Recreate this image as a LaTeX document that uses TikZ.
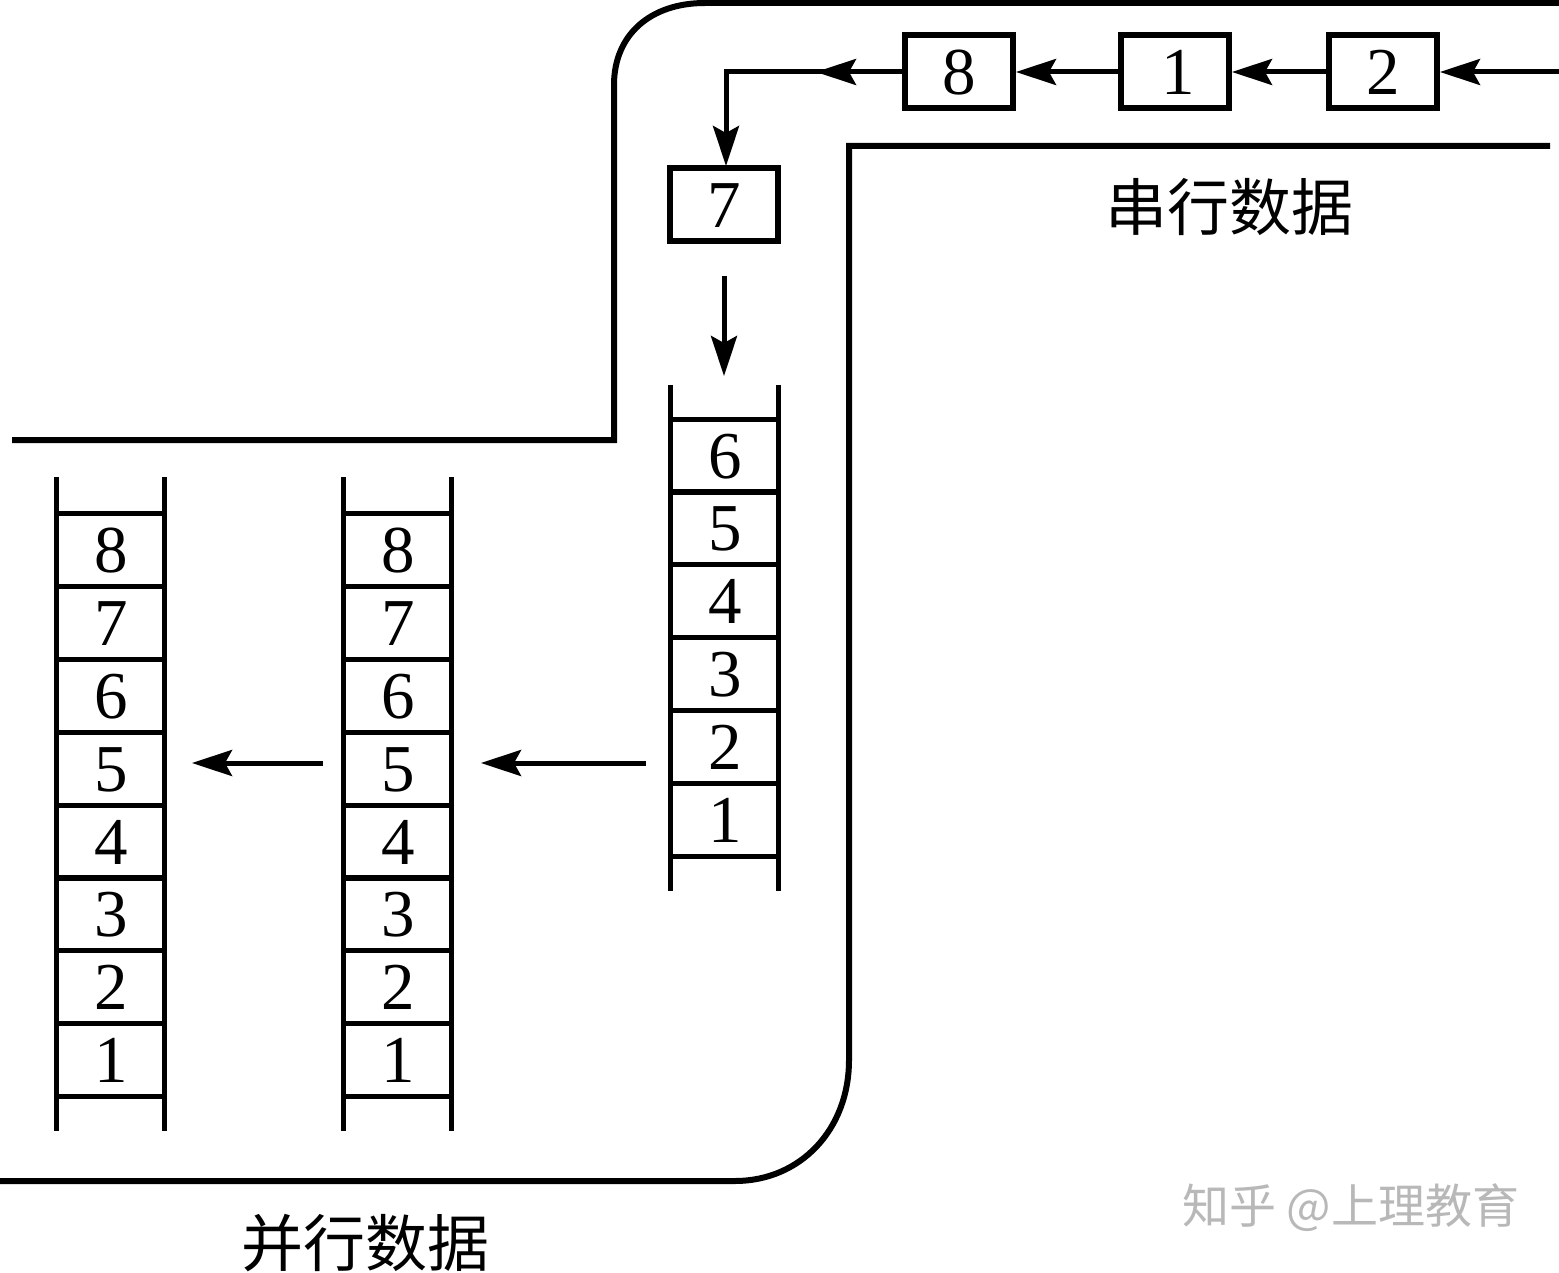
\documentclass[tikz,border=0pt]{standalone}
\usepackage{fontspec}
\setmainfont{Liberation Serif}
\newfontfamily\cjk{Noto Sans CJK SC}
\usetikzlibrary{arrows.meta}
\tikzset{
  wall/.style={line width=6pt,line join=miter},
  rail/.style={line width=5pt},
  cell/.style={draw,line width=5pt,minimum width=108pt,minimum height=73pt,inner sep=0pt,font=\fontsize{67}{67}\selectfont,text depth=0pt,text height=45pt},
  pkt/.style={draw,line width=6pt,minimum width=108pt,minimum height=73pt,inner sep=0pt,font=\fontsize{67}{67}\selectfont,text depth=0pt,text height=45pt},
  arr/.style={line width=5pt,-{Stealth[length=40pt,width=26pt,inset=7pt]}},
  lab/.style={font=\cjk\fontsize{62}{62}\selectfont,inner sep=0pt},
}
\begin{document}
\begin{tikzpicture}[x=1pt,y=-1pt]
\useasboundingbox (0,0) rectangle (1559,1273);
\draw[wall] (12,440) -- (614,440) -- (614,85) .. controls (614,35) and (650,3) .. (705,3) -- (1559,3);
\draw[wall] (1550,146) -- (849,146) -- (849,1060) .. controls (849,1130) and (800,1181) .. (735,1181) -- (0,1181);
\node[pkt] (p8) at (959,72) {8};
\node[pkt] (p1) at (1175,72) {\hspace{6pt}1};
\node[pkt] (p2) at (1383,72) {2};
\node[pkt] (p7) at (724,205) {7};
\coordinate (in) at (1559,72);
\coordinate (mid) at (816,72);
\coordinate (midb) at (826,72);
\coordinate (bend) at (726,72);
\draw[arr] (in) -- (p2);
\draw[arr] (p2) -- (p1);
\draw[arr] (p1) -- (p8);
\draw[arr] (p8) -- (mid);
\draw[arr,line join=miter] (midb) -- (bend) -- (726,166);
% stack C
\foreach \d/\y in {6/456,5/528,4/601,3/674,2/747,1/820}
  \node[cell] (c\d) at (724,\y) {\hspace{2pt}\d};
\coordinate (cta) at (670,385); \coordinate (ctb) at (778,385);
\coordinate (cba) at (670,891); \coordinate (cbb) at (778,891);
\draw[rail] (cta) -- (cba); \draw[rail] (ctb) -- (cbb);
% stacks A, B
\foreach \s/\x in {a/110,b/397}{
  \foreach \d/\y in {8/550,7/623,6/696,5/769,4/842,3/914,2/987,1/1060}
    \node[cell] (\s\d) at (\x,\y) {\hspace{2pt}\d};
  \draw[rail] (\x-54,477) -- (\x-54,1131);
  \draw[rail] (\x+54,477) -- (\x+54,1131);
}
\coordinate (d1s) at (724,276); \coordinate (d1e) at (724,376);
\draw[arr] (d1s) -- (d1e);
\coordinate (l1s) at (646,763); \coordinate (l1e) at (481,763);
\draw[arr] (l1s) -- (l1e);
\coordinate (l2s) at (323,763); \coordinate (l2e) at (192,763);
\draw[arr] (l2s) -- (l2e);
\node[lab] (t1) at (1229,207) {串行数据};
\node[lab] (t2) at (365,1243) {并行数据};
\node[font=\cjk\fontsize{47}{47}\selectfont,text=black!28,inner sep=0pt] (wm) at (1351,1208) {知乎 @上理教育};
\end{tikzpicture}
\end{document}
